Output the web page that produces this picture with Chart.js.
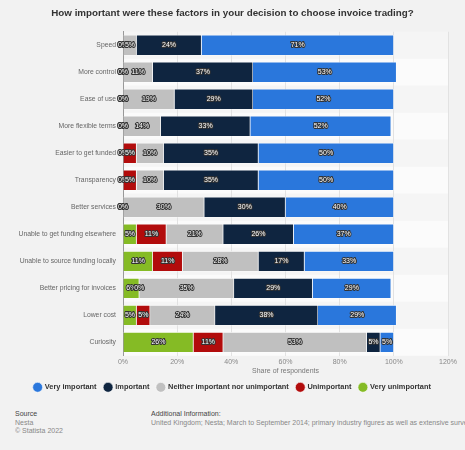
<html lang="en">
  <head>
    <meta charset="UTF-8" />
    <title>Invoice trading factors</title>
    <style>
      body { margin: 0; background: #f2f2f2; font-family: "Liberation Sans", Arial, sans-serif; }
      #wrap { position: absolute; left: 0; top: 0; width: 465px; height: 407px; }
      .foot { position: absolute; top: 410px; font-size: 7px; line-height: 8.5px; color: #888; white-space: nowrap; overflow: hidden; }
      .foot b { color: #444; font-weight: normal; }
    </style>
  </head>
  <body>
    <div id="wrap"><canvas id="myChart"></canvas></div>
    <div class="foot" style="left:15px;width:120px"><b>Source</b><br>Nesta<br>© Statista 2022</div>
    <div class="foot" style="left:151px;width:314px"><b>Additional Information:</b><br>United Kingdom; Nesta; March to September 2014; primary industry figures as well as extensive surveys of businesses and individuals</div>
    <script src="https://cdn.jsdelivr.net/npm/chart.js@4/dist/chart.umd.min.js"></script>
    <script>
        var categories = ['Speed', 'More control', 'Ease of use', 'More flexible terms', 'Easier to get funded', 'Transparency',
            'Better services', 'Unable to get funding elsewhere', 'Unable to source funding locally',
            'Better pricing for invoices', 'Lower cost', 'Curiosity'];
        var veryUnimportant = [0, 0, 0, 0, 0, 0, 0, 5, 11, 6, 5, 26];
        var unimportant     = [0, 0, 0, 0, 5, 5, 0, 11, 11, 0, 5, 11];
        var neither         = [5, 11, 19, 14, 10, 10, 30, 21, 28, 35, 24, 53];
        var important       = [24, 37, 29, 33, 35, 35, 30, 26, 17, 29, 38, 5];
        var veryImportant   = [71, 53, 52, 52, 50, 50, 40, 37, 33, 29, 29, 5];
        var xTicks = [0, 20, 40, 60, 80, 100, 120];

        // alternating row bands behind the bars
        var bands = {
            id: 'bands',
            beforeDraw: function (chart) {
                var c = chart.ctx, a = chart.chartArea, y = chart.scales.y;
                var h = (a.bottom - a.top) / categories.length;
                c.save();
                categories.forEach(function (cat, i) {
                    var yc = y.getPixelForValue(i);
                    c.fillStyle = i % 2 ? '#fbfbfb' : '#f5f5f5';
                    c.fillRect(a.left, yc - h / 2, a.right - a.left, h);
                });
                c.restore();
            }
        };

        // value labels centred in each segment
        var valueLabels = {
            id: 'valueLabels',
            afterDatasetsDraw: function (chart) {
                var c = chart.ctx;
                c.save();
                c.font = '7px "Liberation Sans", Arial, sans-serif';
                c.textAlign = 'center';
                c.textBaseline = 'middle';
                c.lineJoin = 'round';
                chart.data.datasets.forEach(function (ds, di) {
                    chart.getDatasetMeta(di).data.forEach(function (bar, i) {
                        var x = (bar.x + bar.base) / 2;
                        var txt = ds.data[i] + '%';
                        c.lineWidth = 2;
                        c.strokeStyle = '#333';
                        c.strokeText(txt, x, bar.y);
                        c.fillStyle = '#fff';
                        c.fillText(txt, x, bar.y);
                    });
                });
                c.restore();
            }
        };

        var ctx = document.getElementById('myChart').getContext('2d');
        var myChart = new Chart(ctx, {
            type: 'bar',
            data: {
                labels: categories,
                datasets: [
                    { label: 'Very unimportant', data: veryUnimportant, backgroundColor: '#85bb25', borderColor: '#ffffff' },
                    { label: 'Unimportant', data: unimportant, backgroundColor: '#b20c0c', borderColor: '#ffffff' },
                    { label: 'Neither important nor unimportant', data: neither, backgroundColor: '#c0c0c0', borderColor: '#ffffff' },
                    { label: 'Important', data: important, backgroundColor: '#0f2540', borderColor: '#ffffff' },
                    { label: 'Very important', data: veryImportant, backgroundColor: '#2a77dc', borderColor: '#ffffff' }
                ]
            },
            options: {
                indexAxis: 'y',
                responsive: true,
                maintainAspectRatio: false,
                animation: false,
                datasets: { bar: { barPercentage: 0.76, categoryPercentage: 1, borderWidth: 0.6 } },
                layout: { padding: { left: 17, right: 17, top: 0, bottom: 6 } },
                scales: {
                    x: {
                        stacked: true,
                        min: 0,
                        max: 120,
                        afterBuildTicks: function (s) { s.ticks = xTicks.map(function (v) { return { value: v }; }); },
                        ticks: {
                            callback: function (v) { return v + '%'; },
                            font: { size: 7, family: '"Liberation Sans", Arial, sans-serif' },
                            color: '#888',
                            padding: 2
                        },
                        grid: { color: '#e2e2e2', drawTicks: false },
                        border: { display: false },
                        title: {
                            display: true,
                            text: 'Share of respondents',
                            font: { size: 7, family: '"Liberation Sans", Arial, sans-serif' },
                            color: '#777',
                            padding: { top: -1, bottom: 0 }
                        }
                    },
                    y: {
                        stacked: true,
                        afterFit: function (s) { s.width = 106; },
                        ticks: {
                            font: { size: 6.8, family: '"Liberation Sans", Arial, sans-serif' },
                            color: '#666',
                            padding: 7
                        },
                        grid: { display: false, drawTicks: false },
                        border: { color: '#999' }
                    }
                },
                plugins: {
                    title: {
                        display: true,
                        text: 'How important were these factors in your decision to choose invoice trading?',
                        font: { size: 9.8, weight: 'bold', family: '"Liberation Sans", Arial, sans-serif' },
                        color: '#333',
                        padding: { top: 7, bottom: 13 }
                    },
                    legend: {
                        position: 'bottom',
                        reverse: true,
                        labels: {
                            usePointStyle: true,
                            pointStyle: 'circle',
                            boxWidth: 7,
                            boxHeight: 7,
                            padding: 8,
                            color: '#333',
                            font: { size: 7.4, weight: 'bold', family: '"Liberation Sans", Arial, sans-serif' }
                        }
                    },
                    tooltip: { enabled: false }
                }
            },
            plugins: [bands, valueLabels]
        });
    </script>
  </body>
</html>
